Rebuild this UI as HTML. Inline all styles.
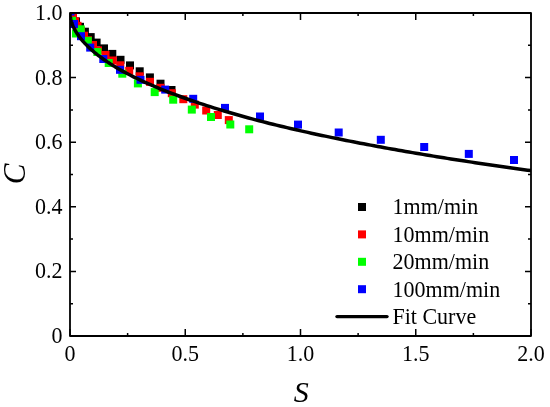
<!DOCTYPE html>
<html><head><meta charset="utf-8"><style>
html,body{margin:0;padding:0;background:#fff;}
svg{display:block;}
text{font-family:"Liberation Serif","Times New Roman",serif;font-size:22px;fill:#000;}
.it{font-style:italic;font-size:31px;}
</style></head><body>
<svg width="550" height="407" viewBox="0 0 550 407">
<rect width="550" height="407" fill="#fff"/>
<defs><clipPath id="cp"><rect x="70.0" y="13.0" width="461.0" height="323.0"/></clipPath></defs>
<g clip-path="url(#cp)">
<g fill="#000"><rect x="66.00" y="9.00" width="8" height="8"/><rect x="68.50" y="12.50" width="8" height="8"/><rect x="72.00" y="17.40" width="8" height="8"/><rect x="76.00" y="22.80" width="8" height="8"/><rect x="80.90" y="27.70" width="8" height="8"/><rect x="86.70" y="33.10" width="8" height="8"/><rect x="92.60" y="38.60" width="8" height="8"/><rect x="100.00" y="44.40" width="8" height="8"/><rect x="108.30" y="49.90" width="8" height="8"/><rect x="116.50" y="55.80" width="8" height="8"/><rect x="126.00" y="61.40" width="8" height="8"/><rect x="135.70" y="67.30" width="8" height="8"/><rect x="145.90" y="73.40" width="8" height="8"/><rect x="156.50" y="79.70" width="8" height="8"/><rect x="167.50" y="86.00" width="8" height="8"/></g>
<g fill="#ff0000"><rect x="69.00" y="9.00" width="8" height="8"/><rect x="71.10" y="17.20" width="8" height="8"/><rect x="73.50" y="21.80" width="8" height="8"/><rect x="77.00" y="26.50" width="8" height="8"/><rect x="80.00" y="31.70" width="8" height="8"/><rect x="84.00" y="36.30" width="8" height="8"/><rect x="89.00" y="41.00" width="8" height="8"/><rect x="94.00" y="46.40" width="8" height="8"/><rect x="101.50" y="51.00" width="8" height="8"/><rect x="108.80" y="56.50" width="8" height="8"/><rect x="116.30" y="61.30" width="8" height="8"/><rect x="125.20" y="66.80" width="8" height="8"/><rect x="135.70" y="72.30" width="8" height="8"/><rect x="146.00" y="77.80" width="8" height="8"/><rect x="156.50" y="83.80" width="8" height="8"/><rect x="167.80" y="89.20" width="8" height="8"/><rect x="179.30" y="95.20" width="8" height="8"/><rect x="190.80" y="100.60" width="8" height="8"/><rect x="202.20" y="106.50" width="8" height="8"/><rect x="213.80" y="111.00" width="8" height="8"/><rect x="224.80" y="116.10" width="8" height="8"/></g>
<g fill="#00ff00"><rect x="68.00" y="16.80" width="8" height="8"/><rect x="72.00" y="29.50" width="8" height="8"/><rect x="76.70" y="25.30" width="8" height="8"/><rect x="83.80" y="36.80" width="8" height="8"/><rect x="93.40" y="48.00" width="8" height="8"/><rect x="104.70" y="59.00" width="8" height="8"/><rect x="118.30" y="69.70" width="8" height="8"/><rect x="133.90" y="79.40" width="8" height="8"/><rect x="150.70" y="88.10" width="8" height="8"/><rect x="169.20" y="95.70" width="8" height="8"/><rect x="187.80" y="105.60" width="8" height="8"/><rect x="207.00" y="113.00" width="8" height="8"/><rect x="226.30" y="120.50" width="8" height="8"/><rect x="245.20" y="125.30" width="8" height="8"/></g>
<g fill="#0000ff"><rect x="66.50" y="7.50" width="8" height="8"/><rect x="70.00" y="20.00" width="8" height="8"/><rect x="77.00" y="32.20" width="8" height="8"/><rect x="86.20" y="43.60" width="8" height="8"/><rect x="99.30" y="55.00" width="8" height="8"/><rect x="116.00" y="65.80" width="8" height="8"/><rect x="136.50" y="75.80" width="8" height="8"/><rect x="161.20" y="85.60" width="8" height="8"/><rect x="189.20" y="94.80" width="8" height="8"/><rect x="221.00" y="103.90" width="8" height="8"/><rect x="256.00" y="112.50" width="8" height="8"/><rect x="294.00" y="120.60" width="8" height="8"/><rect x="334.70" y="128.50" width="8" height="8"/><rect x="376.80" y="135.80" width="8" height="8"/><rect x="420.20" y="143.00" width="8" height="8"/><rect x="464.80" y="149.90" width="8" height="8"/><rect x="510.00" y="156.00" width="8" height="8"/></g>
<path d="M70.00,13.00 L70.12,15.20 L70.23,16.21 L70.35,17.00 L70.46,17.68 L70.58,18.29 L70.69,18.84 L70.81,19.35 L70.92,19.83 L71.04,20.28 L71.15,20.71 L71.27,21.12 L71.38,21.52 L71.50,21.89 L71.61,22.26 L71.73,22.61 L71.84,22.95 L71.96,23.28 L72.07,23.61 L72.19,23.92 L72.31,24.23 L72.42,24.53 L72.54,24.82 L72.65,25.11 L72.77,25.39 L72.88,25.67 L73.00,25.94 L73.11,26.20 L73.23,26.46 L73.34,26.72 L73.46,26.97 L73.57,27.22 L73.69,27.47 L73.80,27.71 L73.92,27.95 L74.03,28.18 L74.15,28.41 L74.26,28.64 L74.38,28.87 L74.49,29.09 L74.61,29.31 L75.31,30.60 L76.02,31.81 L76.72,32.95 L77.42,34.03 L78.13,35.07 L78.83,36.07 L79.53,37.02 L80.24,37.95 L80.94,38.84 L81.64,39.70 L82.35,40.54 L83.05,41.35 L83.75,42.15 L84.46,42.92 L85.16,43.68 L85.86,44.41 L86.56,45.13 L87.27,45.84 L87.97,46.53 L88.67,47.21 L89.38,47.87 L90.08,48.53 L90.78,49.17 L91.49,49.80 L92.19,50.42 L92.89,51.03 L93.60,51.63 L94.30,52.22 L95.00,52.80 L95.71,53.38 L96.41,53.94 L97.11,54.50 L97.82,55.05 L98.52,55.59 L99.22,56.13 L99.93,56.66 L100.63,57.18 L101.33,57.70 L102.04,58.21 L102.74,58.72 L103.44,59.21 L104.15,59.71 L104.85,60.20 L105.55,60.68 L106.25,61.16 L106.96,61.63 L107.66,62.10 L108.36,62.56 L109.07,63.02 L109.77,63.48 L110.47,63.93 L111.18,64.37 L111.88,64.82 L112.58,65.25 L113.29,65.69 L113.99,66.12 L114.69,66.54 L115.40,66.97 L116.10,67.39 L119.59,69.42 L123.07,71.37 L126.56,73.25 L130.05,75.07 L133.53,76.84 L137.02,78.54 L140.51,80.20 L143.99,81.82 L147.48,83.39 L150.97,84.92 L154.45,86.41 L157.94,87.86 L161.43,89.29 L164.91,90.68 L168.40,92.04 L171.88,93.37 L175.37,94.69 L178.86,95.99 L182.34,97.26 L185.83,98.51 L189.32,99.74 L192.80,100.95 L196.29,102.14 L199.78,103.31 L203.26,104.46 L206.75,105.59 L210.24,106.70 L213.72,107.80 L217.21,108.88 L220.70,109.94 L224.18,110.99 L227.67,112.02 L231.16,113.05 L234.64,114.05 L238.13,115.05 L241.62,116.03 L245.10,116.99 L248.59,117.95 L252.08,118.89 L255.56,119.83 L259.05,120.75 L262.54,121.66 L266.02,122.56 L269.51,123.43 L272.99,124.29 L276.48,125.14 L279.97,125.98 L283.45,126.82 L286.94,127.64 L290.43,128.45 L293.91,129.26 L297.40,130.06 L300.89,130.85 L304.37,131.63 L307.86,132.40 L311.35,133.17 L314.83,133.93 L318.32,134.68 L321.81,135.42 L325.29,136.16 L328.78,136.89 L332.27,137.61 L335.75,138.32 L339.24,139.03 L342.73,139.74 L346.21,140.43 L349.70,141.12 L353.19,141.81 L356.67,142.49 L360.16,143.16 L363.65,143.83 L367.13,144.49 L370.62,145.15 L374.11,145.80 L377.59,146.44 L381.08,147.08 L384.56,147.72 L388.05,148.35 L391.54,148.97 L395.02,149.59 L398.51,150.21 L402.00,150.82 L405.48,151.42 L408.97,152.03 L412.46,152.62 L415.94,153.21 L419.43,153.80 L422.92,154.39 L426.40,154.97 L429.89,155.54 L433.38,156.11 L436.86,156.68 L440.35,157.24 L443.84,157.80 L447.32,158.36 L450.81,158.91 L454.30,159.46 L457.78,160.00 L461.27,160.54 L464.76,161.08 L468.24,161.61 L471.73,162.14 L475.22,162.66 L478.70,163.19 L482.19,163.71 L485.67,164.22 L489.16,164.74 L492.65,165.24 L496.13,165.75 L499.62,166.25 L503.11,166.75 L506.59,167.25 L510.08,167.74 L513.57,168.23 L517.05,168.72 L520.54,169.21 L524.03,169.69 L527.51,170.17 L531.00,170.64" fill="none" stroke="#000" stroke-width="3.5" stroke-linejoin="round" stroke-linecap="round"/>
</g>
<rect x="70.0" y="13.0" width="461.0" height="323.0" fill="none" stroke="#000" stroke-width="1.8" stroke-linejoin="round"/>
<path d="M70.00,336.0 v-7 M70.00,13.0 v7 M127.62,336.0 v-3 M127.62,13.0 v3 M185.25,336.0 v-7 M185.25,13.0 v7 M242.88,336.0 v-3 M242.88,13.0 v3 M300.50,336.0 v-7 M300.50,13.0 v7 M358.12,336.0 v-3 M358.12,13.0 v3 M415.75,336.0 v-7 M415.75,13.0 v7 M473.38,336.0 v-3 M473.38,13.0 v3 M531.00,336.0 v-7 M531.00,13.0 v7 M70.0,336.00 h6 M531.0,336.00 h-6 M70.0,303.70 h3 M531.0,303.70 h-3 M70.0,271.40 h6 M531.0,271.40 h-6 M70.0,239.10 h3 M531.0,239.10 h-3 M70.0,206.80 h6 M531.0,206.80 h-6 M70.0,174.50 h3 M531.0,174.50 h-3 M70.0,142.20 h6 M531.0,142.20 h-6 M70.0,109.90 h3 M531.0,109.90 h-3 M70.0,77.60 h6 M531.0,77.60 h-6 M70.0,45.30 h3 M531.0,45.30 h-3 M70.0,13.00 h6 M531.0,13.00 h-6" stroke="#000" stroke-width="1.5" fill="none"/>
<text transform="translate(70.00,360.6) scale(1,1.08)" text-anchor="middle">0</text><text transform="translate(185.25,360.6) scale(1,1.08)" text-anchor="middle">0.5</text><text transform="translate(300.50,360.6) scale(1,1.08)" text-anchor="middle">1.0</text><text transform="translate(415.75,360.6) scale(1,1.08)" text-anchor="middle">1.5</text><text transform="translate(531.00,360.6) scale(1,1.08)" text-anchor="middle">2.0</text>
<text transform="translate(62.5,342.90) scale(1,1.08)" text-anchor="end">0</text><text transform="translate(62.5,278.30) scale(1,1.08)" text-anchor="end">0.2</text><text transform="translate(62.5,213.70) scale(1,1.08)" text-anchor="end">0.4</text><text transform="translate(62.5,149.10) scale(1,1.08)" text-anchor="end">0.6</text><text transform="translate(62.5,84.50) scale(1,1.08)" text-anchor="end">0.8</text><text transform="translate(62.5,19.90) scale(1,1.08)" text-anchor="end">1.0</text>
<text class="it" x="293.8" y="402.3" style="font-size:30px">S</text>
<text class="it" transform="translate(25.1,173.8) rotate(-90)" text-anchor="middle">C</text>
<rect x="358.0" y="203.00" width="8" height="8" fill="#000000"/><text transform="translate(392.6,214.30) scale(1,1.04)">1mm/min</text><rect x="358.0" y="230.40" width="8" height="8" fill="#ff0000"/><text transform="translate(392.6,241.70) scale(1,1.04)">10mm/min</text><rect x="358.0" y="257.80" width="8" height="8" fill="#00ff00"/><text transform="translate(392.6,269.10) scale(1,1.04)">20mm/min</text><rect x="358.0" y="285.20" width="8" height="8" fill="#0000ff"/><text transform="translate(392.6,296.50) scale(1,1.04)">100mm/min</text><path d="M337,316.60 H387" stroke="#000" stroke-width="3.4" stroke-linecap="round"/><text transform="translate(392.5,323.90) scale(1,1.04)">Fit Curve</text>
</svg>
</body></html>
